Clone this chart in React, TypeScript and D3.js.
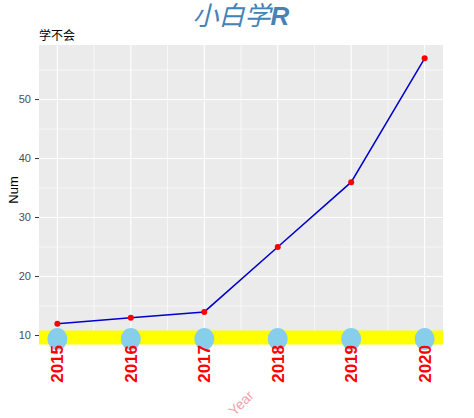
import React from "react";
import * as d3 from "d3";

const years = [2015, 2016, 2017, 2018, 2019, 2020];
const nums = [12, 13, 14, 25, 36, 57];
const yTicks = [10, 20, 30, 40, 50];
const yMinor = [15, 25, 35, 45, 55];
const xMinor = [2015.5, 2016.5, 2017.5, 2018.5, 2019.5];

export default function App() {
  const W = 474, H = 418;
  const L = 39, R = 443, T = 45, B = 337;
  const x = d3.scaleLinear().domain([2014.75, 2020.25]).range([L, R]);
  const y = d3.scaleLinear().domain([9.75, 59.25]).range([B, T]);
  const line = d3.line<number>().x((_, i) => x(years[i])).y((d) => y(d));
  const font = "'Liberation Sans', Arial, sans-serif";
  return (
    <svg width={W} height={H} style={{ position: "absolute", left: 0, top: 0 }} fontFamily={font}>
      <rect x={0} y={0} width={W} height={H} fill="#fff" />
      <text x={(L + R) / 2} y={25} textAnchor="middle" fontSize={26} fill="#4682B4" fontStyle="italic"
        fontFamily="'Noto Sans CJK SC', sans-serif">
        小白学<tspan fontWeight="bold" fontFamily={font}>R</tspan>
      </text>
      <text x={L} y={40} fontSize={12} fill="#000" fontFamily="'Noto Sans CJK SC', sans-serif">学不会</text>
      <rect x={L} y={T} width={R - L} height={B - T} fill="#EBEBEB" />
      {yMinor.map((v) => (
        <line key={"ym" + v} x1={L} x2={R} y1={y(v)} y2={y(v)} stroke="#fff" strokeWidth={0.6} />
      ))}
      {xMinor.map((v) => (
        <line key={"xm" + v} x1={x(v)} x2={x(v)} y1={T} y2={B} stroke="#fff" strokeWidth={0.6} />
      ))}
      {yTicks.map((v) => (
        <line key={"yg" + v} x1={L} x2={R} y1={y(v)} y2={y(v)} stroke="#fff" strokeWidth={1.1} />
      ))}
      {years.map((v) => (
        <line key={"xg" + v} x1={x(v)} x2={x(v)} y1={T} y2={B} stroke="#fff" strokeWidth={1.1} />
      ))}
      <path d={line(nums) || ""} fill="none" stroke="#0000CD" strokeWidth={1.5} />
      {nums.map((v, i) => (
        <circle key={"p" + i} cx={x(years[i])} cy={y(v)} r={3} fill="#FF0000" />
      ))}
      <rect x={L} y={B - 6.5} width={R - L} height={14} fill="#FFFF00" />
      {years.map((v) => (
        <ellipse key={"tk" + v} cx={x(v)} cy={B + 2} rx={10} ry={11} fill="#87CEEB" />
      ))}
      {yTicks.map((v) => (
        <g key={"yt" + v}>
          <line x1={L - 4} x2={L} y1={y(v)} y2={y(v)} stroke="#333" strokeWidth={1} />
          <text x={L - 8} y={y(v)} dy="0.35em" textAnchor="end" fontSize={11} fill="#4D4D4D">{v}</text>
        </g>
      ))}
      {years.map((v) => (
        <text key={"xl" + v} transform={`translate(${x(v)},${B + 8}) rotate(-90)`} textAnchor="end"
          dy="0.36em" fontSize={17} fontWeight="bold" fill="#FF0000">{v}</text>
      ))}
      <text transform="translate(18,190) rotate(-90)" textAnchor="middle" fontSize={13} fill="#000">Num</text>
      <text transform="translate(241,403) rotate(-45)" textAnchor="middle" dy="0.35em" fontSize={14} fill="#F4A0A8">Year</text>
    </svg>
  );
}
